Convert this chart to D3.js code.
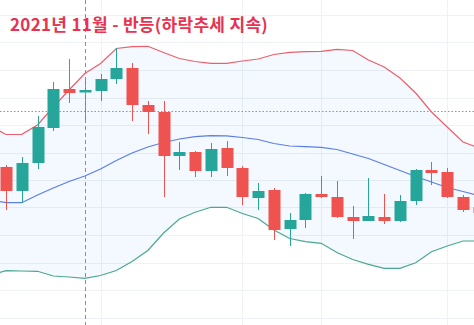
<!DOCTYPE html>
<html>
<head>
<meta charset="utf-8">
<script src="https://cdn.jsdelivr.net/npm/d3@7"></script>
<style>
  html, body { margin: 0; padding: 0; background: #fff; overflow: hidden; }
</style>
</head>
<body>
<script>
// candle index -1 is just left of the frame, only there so the bands run to the edge
var idx = d3.range(-1, 31);

var opens  = [4300, 4330, 4090, 4370, 4720, 5110, 5075, 5090, 5210, 5320, 4950, 4880, 4440, 4480, 4290, 4520,
              4320, 4020, 4100, 3710, 3800, 4060, 4030, 3830, 3790, 3830, 3790, 3990, 4300, 4280, 4030, 3930];
var highs  = [4400, 4350, 4430, 4840, 5180, 5410, 5230, 5260, 5520, 5370, 4990, 4990, 4580, 4490, 4570, 4590,
              4340, 4170, 4120, 3870, 4070, 4240, 4190, 3940, 4220, 4060, 4050, 4310, 4380, 4320, 4050, 3950];
var lows   = [4200, 3900, 3970, 4310, 4690, 4970, 4800, 4990, 5160, 4790, 4660, 4030, 4300, 4230, 4230, 4240,
              3950, 3900, 3600, 3540, 3720, 4020, 3820, 3610, 3790, 3760, 3780, 3950, 4150, 4020, 3880, 3850];
var closes = [4350, 4090, 4370, 4730, 5110, 5070, 5100, 5210, 5320, 4950, 4880, 4440, 4480, 4290, 4510, 4320,
              4030, 4090, 3700, 3800, 4060, 4030, 3830, 3790, 3840, 3790, 3990, 4300, 4270, 4030, 3900, 3870];

// bollinger bands
var upper  = [4740, 4655, 4657, 4750, 4930, 5100, 5265, 5365, 5515, 5533, 5537, 5475, 5415, 5385, 5367, 5367,
              5390, 5410, 5455, 5477, 5483, 5487, 5507, 5495, 5400, 5330, 5220, 5070, 4880, 4730, 4580, 4520];
var middle = [4000, 3973, 3973, 4050, 4120, 4185, 4240, 4310, 4395, 4470, 4530, 4575, 4610, 4633, 4643, 4642,
              4625, 4605, 4565, 4540, 4533, 4527, 4505, 4460, 4415, 4355, 4295, 4235, 4180, 4125, 4085, 4045];
var lower  = [3250, 3293, 3290, 3287, 3240, 3230, 3217, 3245, 3295, 3385, 3495, 3670, 3810, 3877, 3927, 3927,
              3865, 3815, 3700, 3615, 3583, 3567, 3475, 3405, 3357, 3317, 3317, 3373, 3483, 3540, 3590, 3590];

var priceTicks = [5850, 5575, 5300, 5025, 4750, 4475, 4200, 3925, 3650, 3375, 3100, 2825];
var timeGrid = [6, 15, 20, 28];
var crossIdx = 5;
var priceLine = 4893;
var title = "2021년 11월 - 반등(하락추세 지속)";

var W = 474, H = 325;
var up = "#26a69a", down = "#ef5350";

var svg = d3.select("body").append("svg")
  .attr("width", W)
  .attr("height", H);

var x = d3.scaleLinear().domain([0, 29]).range([6, 463]);
var y = d3.scaleLinear().domain([2750, 6000]).range([H, 0]);

var bars = idx.map(function(d, i) {
  return { i: d, o: opens[i], h: highs[i], l: lows[i], c: closes[i], u: upper[i], m: middle[i], lo: lower[i] };
});

// grid
svg.append("g").selectAll("line").data(priceTicks).join("line")
  .attr("x1", 0).attr("x2", W)
  .attr("y1", function(d) { return Math.round(y(d)) + 0.5; })
  .attr("y2", function(d) { return Math.round(y(d)) + 0.5; })
  .attr("stroke", "#eef1f6");
svg.append("g").selectAll("line").data(timeGrid).join("line")
  .attr("y1", 0).attr("y2", H)
  .attr("x1", function(d) { return Math.round(x(d)) + 0.5; })
  .attr("x2", function(d) { return Math.round(x(d)) + 0.5; })
  .attr("stroke", "#eef1f6");

// band fill + lines
svg.append("path").datum(bars)
  .attr("fill", "rgba(33,150,243,0.055)")
  .attr("d", d3.area()
    .x(function(d) { return x(d.i); })
    .y0(function(d) { return y(d.lo); })
    .y1(function(d) { return y(d.u); }));

var bandLine = function(key) {
  return d3.line().x(function(d) { return x(d.i); }).y(function(d) { return y(d[key]); });
};
[["u", "#ec5f6d"], ["m", "#5b7fe6"], ["lo", "#4aa88f"]].forEach(function(b) {
  svg.append("path").datum(bars)
    .attr("fill", "none")
    .attr("stroke", b[1])
    .attr("stroke-width", 1.2)
    .attr("d", bandLine(b[0]));
});

// price line (dotted)
svg.append("line")
  .attr("x1", 0).attr("x2", W)
  .attr("y1", Math.round(y(priceLine)) + 0.5)
  .attr("y2", Math.round(y(priceLine)) + 0.5)
  .attr("stroke", "#4fb3a6")
  .attr("stroke-dasharray", "1.5,2");

// candles
var bw = 12;
var g = svg.append("g").selectAll("g").data(bars).join("g");
g.append("line")
  .attr("x1", function(d) { return Math.round(x(d.i)) + 0.5; })
  .attr("x2", function(d) { return Math.round(x(d.i)) + 0.5; })
  .attr("y1", function(d) { return y(d.h); })
  .attr("y2", function(d) { return y(d.l); })
  .attr("stroke", function(d) { return d.c >= d.o ? up : down; });
g.append("rect")
  .attr("x", function(d) { return Math.round(x(d.i)) + 0.5 - bw / 2; })
  .attr("width", bw)
  .attr("y", function(d) { return y(Math.max(d.o, d.c)); })
  .attr("height", function(d) { return Math.max(2, Math.abs(y(d.o) - y(d.c))); })
  .attr("fill", function(d) { return d.c >= d.o ? up : down; });

// crosshair
svg.append("line")
  .attr("x1", Math.round(x(crossIdx)) + 0.5)
  .attr("x2", Math.round(x(crossIdx)) + 0.5)
  .attr("y1", 0).attr("y2", H)
  .attr("stroke", "#8a8e99")
  .attr("stroke-dasharray", "4,3");

svg.append("text")
  .attr("x", 10)
  .attr("y", 31)
  .attr("fill", "#e6334f")
  .attr("font-family", "'Noto Sans CJK KR', 'Noto Sans', sans-serif")
  .attr("font-weight", "bold")
  .attr("font-size", 17)
  .attr("letter-spacing", 0.3)
  .text(title);
</script>
</body>
</html>
